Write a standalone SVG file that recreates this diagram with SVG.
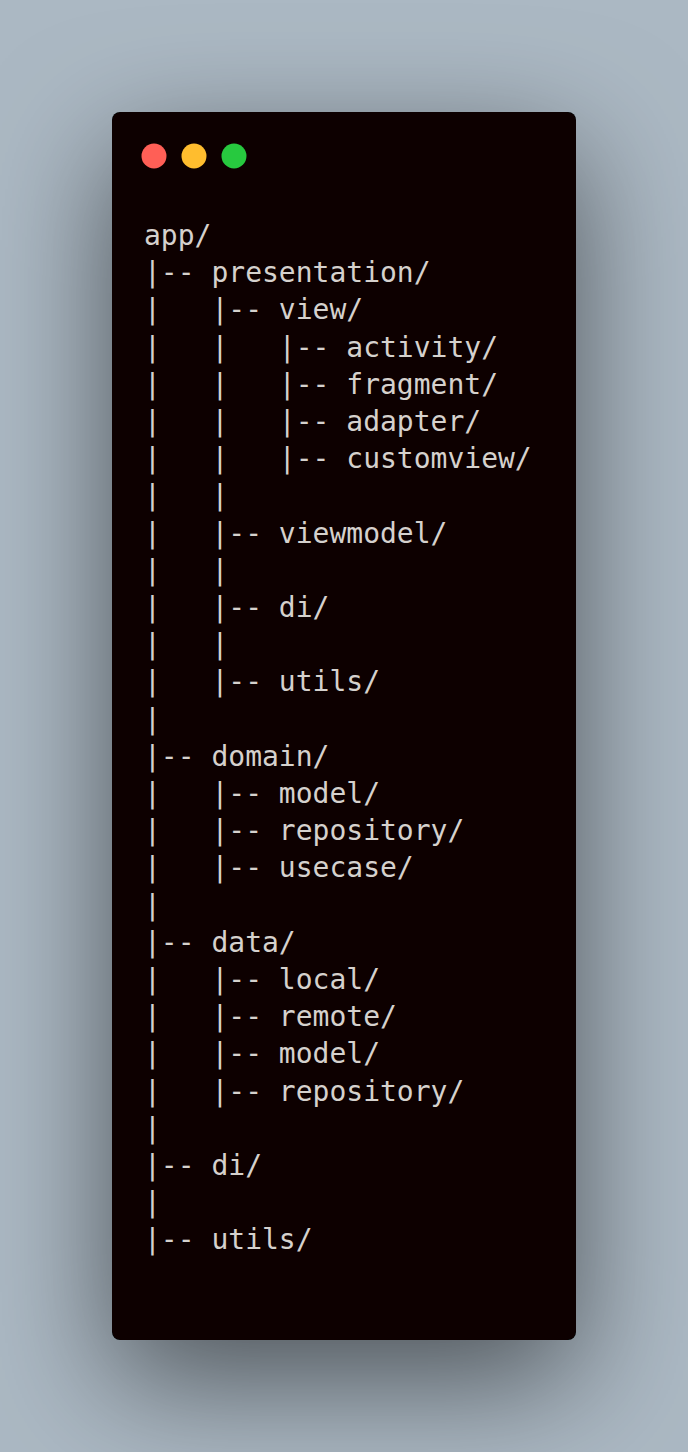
<svg xmlns="http://www.w3.org/2000/svg" width="688" height="1452" viewBox="0 0 688 1452">
<style>
.t{font-family:"DejaVu Sans Mono","Liberation Mono",monospace;font-size:28px;fill:#d5d1cd;white-space:pre}
</style>
<defs>
<filter id="sh" x="-80%" y="-30%" width="260%" height="160%">
<feDropShadow dx="0" dy="40" stdDeviation="62" flood-color="#000" flood-opacity="0.55"/>
</filter>
</defs>
<rect width="688" height="1452" fill="#abb8c3"/>
<g id="window">
<rect x="112" y="112" width="464" height="1228" rx="8" fill="#070200" filter="url(#sh)"/>
<circle cx="154" cy="156" r="12.5" fill="#ff5f56"/>
<circle cx="194" cy="156" r="12.5" fill="#ffbd2e"/>
<circle cx="234" cy="156" r="12.5" fill="#27c93f"/>
</g>
<g id="tree" transform="translate(0,3)">
<text class="t" xml:space="preserve" x="144" y="242">app/</text>
<text class="t" xml:space="preserve" x="144" y="279.2">|-- presentation/</text>
<text class="t" xml:space="preserve" x="144" y="316.4">|   |-- view/</text>
<text class="t" xml:space="preserve" x="144" y="353.6">|   |   |-- activity/</text>
<text class="t" xml:space="preserve" x="144" y="390.8">|   |   |-- fragment/</text>
<text class="t" xml:space="preserve" x="144" y="428">|   |   |-- adapter/</text>
<text class="t" xml:space="preserve" x="144" y="465.2">|   |   |-- customview/</text>
<text class="t" xml:space="preserve" x="144" y="502.4">|   |</text>
<text class="t" xml:space="preserve" x="144" y="539.6">|   |-- viewmodel/</text>
<text class="t" xml:space="preserve" x="144" y="576.8">|   |</text>
<text class="t" xml:space="preserve" x="144" y="614">|   |-- di/</text>
<text class="t" xml:space="preserve" x="144" y="651.2">|   |</text>
<text class="t" xml:space="preserve" x="144" y="688.4">|   |-- utils/</text>
<text class="t" xml:space="preserve" x="144" y="725.6">|</text>
<text class="t" xml:space="preserve" x="144" y="762.8">|-- domain/</text>
<text class="t" xml:space="preserve" x="144" y="800">|   |-- model/</text>
<text class="t" xml:space="preserve" x="144" y="837.2">|   |-- repository/</text>
<text class="t" xml:space="preserve" x="144" y="874.4">|   |-- usecase/</text>
<text class="t" xml:space="preserve" x="144" y="911.6">|</text>
<text class="t" xml:space="preserve" x="144" y="948.8">|-- data/</text>
<text class="t" xml:space="preserve" x="144" y="986">|   |-- local/</text>
<text class="t" xml:space="preserve" x="144" y="1023.2">|   |-- remote/</text>
<text class="t" xml:space="preserve" x="144" y="1060.4">|   |-- model/</text>
<text class="t" xml:space="preserve" x="144" y="1097.6">|   |-- repository/</text>
<text class="t" xml:space="preserve" x="144" y="1134.8">|</text>
<text class="t" xml:space="preserve" x="144" y="1172">|-- di/</text>
<text class="t" xml:space="preserve" x="144" y="1209.2">|</text>
<text class="t" xml:space="preserve" x="144" y="1246.4">|-- utils/</text>
</g>
</svg>
